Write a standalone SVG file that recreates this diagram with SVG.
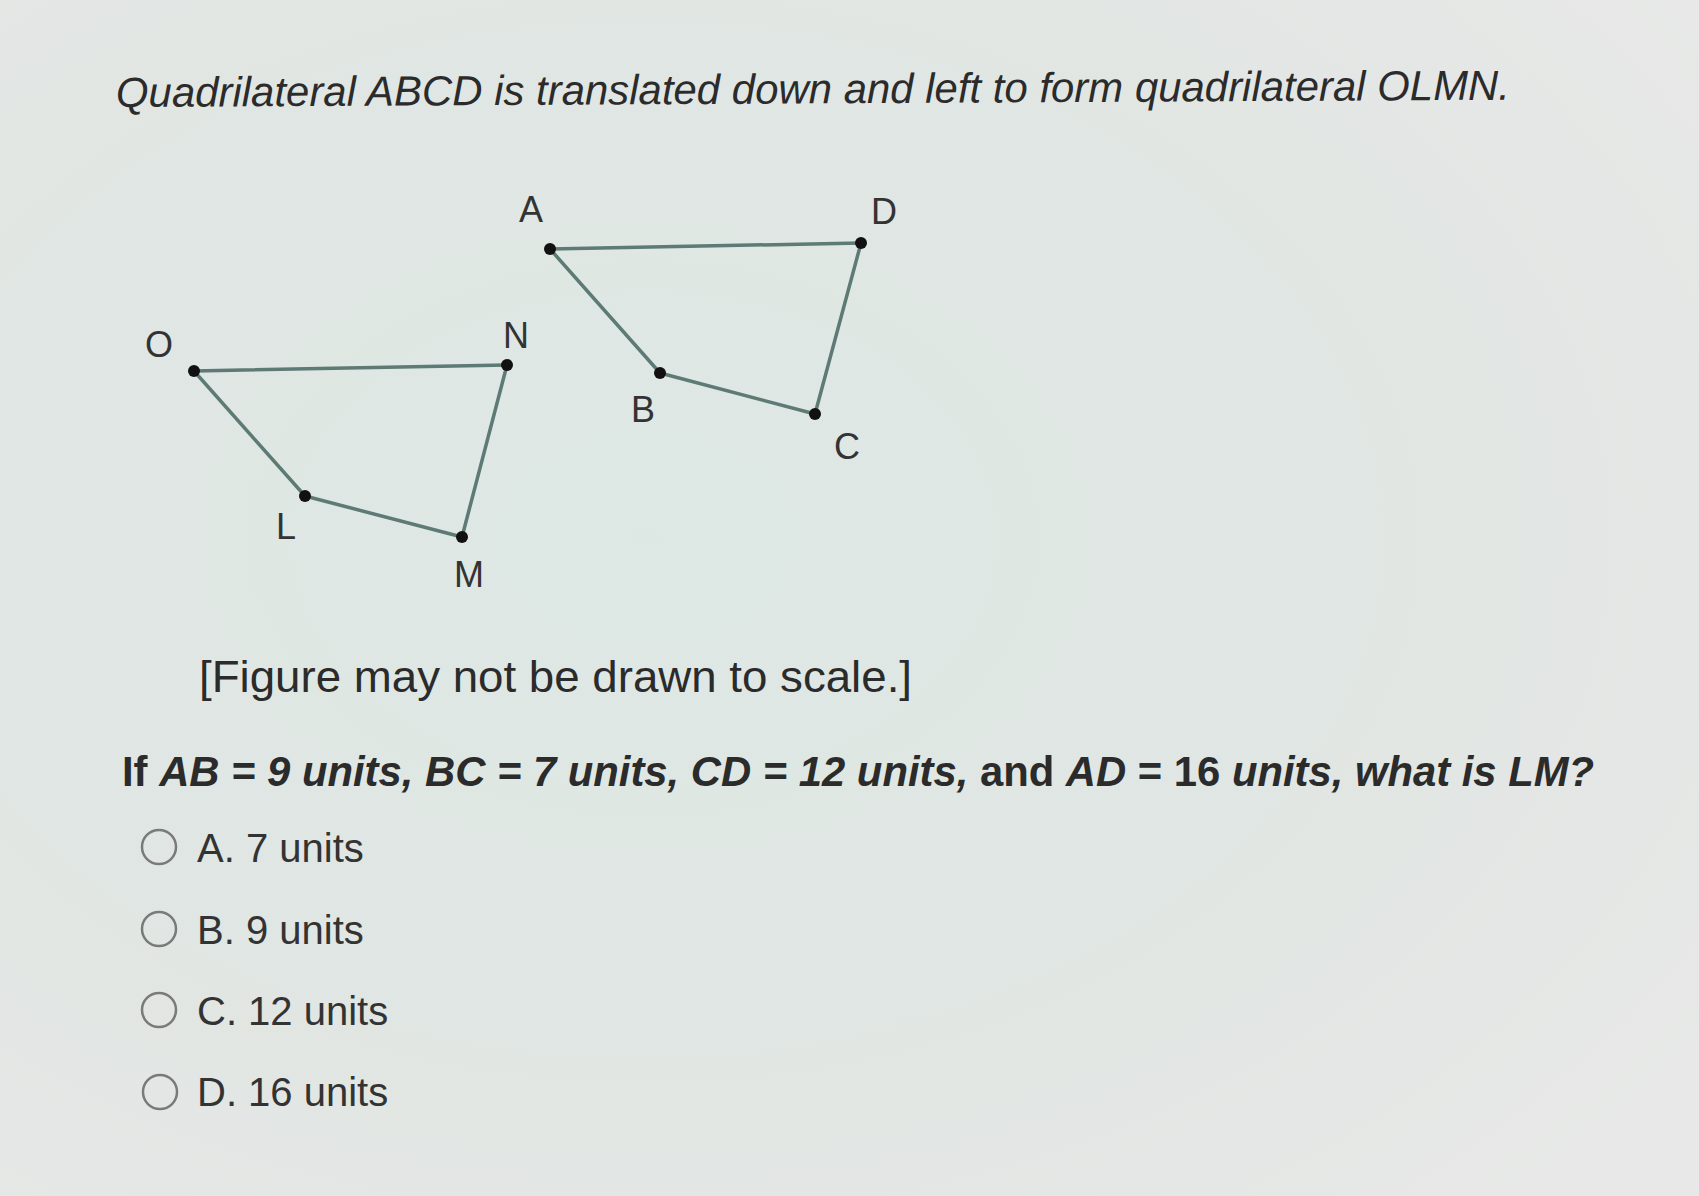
<svg xmlns="http://www.w3.org/2000/svg" width="1699" height="1196" viewBox="0 0 1699 1196">
<defs>
<radialGradient id="bg" cx="0.38" cy="0.45" r="0.75">
<stop offset="0" stop-color="#dde8e4"/>
<stop offset="0.6" stop-color="#e1e6e3"/>
<stop offset="1" stop-color="#e7e8e7"/>
</radialGradient>
<style>
.txt{font-family:"Liberation Sans",Arial,sans-serif;fill:#2b2b2b}
.lbl{font-family:"Liberation Sans",Arial,sans-serif;font-size:36px;fill:#333;text-anchor:middle}
.edge{stroke:#5d7a75;stroke-width:3.5;fill:none;stroke-linecap:round}
.dot{fill:#111}
.radio{fill:none;stroke:#7a7a7a;stroke-width:2.5}
.opt{font-family:"Liberation Sans",Arial,sans-serif;font-size:40px;fill:#333}
</style>
</defs>
<rect width="1699" height="1196" fill="url(#bg)"/>

<text class="txt" x="116" y="107" font-size="42" font-style="italic" textLength="1394" lengthAdjust="spacingAndGlyphs" transform="rotate(-0.3 116 107)">Quadrilateral ABCD is translated down and left to form quadrilateral OLMN.</text>

<g id="connectors">
<line class="edge" x1="550" y1="249" x2="861" y2="243"/>
<line class="edge" x1="861" y1="243" x2="815" y2="414"/>
<line class="edge" x1="815" y1="414" x2="660" y2="373"/>
<line class="edge" x1="660" y1="373" x2="550" y2="249"/>
<line class="edge" x1="194" y1="371" x2="507" y2="365"/>
<line class="edge" x1="507" y1="365" x2="462" y2="537"/>
<line class="edge" x1="462" y1="537" x2="305" y2="496"/>
<line class="edge" x1="305" y1="496" x2="194" y2="371"/>
</g>

<g id="node-A"><circle class="dot" cx="550" cy="249" r="6"/><text class="lbl" x="531" y="222">A</text></g>
<g id="node-D"><circle class="dot" cx="861" cy="243" r="6"/><text class="lbl" x="884" y="224">D</text></g>
<g id="node-B"><circle class="dot" cx="660" cy="373" r="6"/><text class="lbl" x="643" y="422">B</text></g>
<g id="node-C"><circle class="dot" cx="815" cy="414" r="6"/><text class="lbl" x="847" y="459">C</text></g>
<g id="node-O"><circle class="dot" cx="194" cy="371" r="6"/><text class="lbl" x="159" y="357">O</text></g>
<g id="node-N"><circle class="dot" cx="507" cy="365" r="6"/><text class="lbl" x="516" y="348">N</text></g>
<g id="node-L"><circle class="dot" cx="305" cy="496" r="6"/><text class="lbl" x="286" y="539">L</text></g>
<g id="node-M"><circle class="dot" cx="462" cy="537" r="6"/><text class="lbl" x="469" y="587">M</text></g>

<text class="txt" x="199" y="692" font-size="45" textLength="713" lengthAdjust="spacingAndGlyphs">[Figure may not be drawn to scale.]</text>

<text class="txt" x="122" y="786" font-size="42" font-weight="bold" textLength="1472" lengthAdjust="spacingAndGlyphs">If <tspan font-style="italic">AB = 9 units, BC = 7 units, CD = 12 units,</tspan> and <tspan font-style="italic">AD</tspan> = 16 <tspan font-style="italic">units, what is LM?</tspan></text>

<g id="options">
<circle class="radio" cx="159" cy="847" r="17"/>
<text class="opt" x="197" y="862">A. 7 units</text>
<circle class="radio" cx="159" cy="929" r="17"/>
<text class="opt" x="197" y="944">B. 9 units</text>
<circle class="radio" cx="159" cy="1010" r="17"/>
<text class="opt" x="197" y="1025">C. 12 units</text>
<circle class="radio" cx="160" cy="1092" r="17"/>
<text class="opt" x="197" y="1106">D. 16 units</text>
</g>
</svg>
